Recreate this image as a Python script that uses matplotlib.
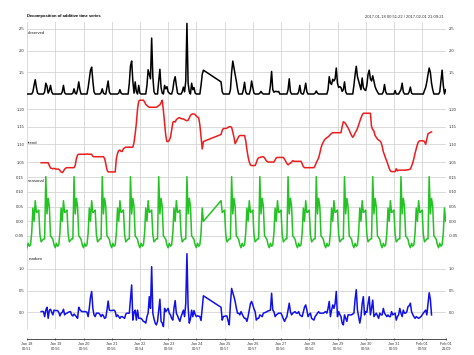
import numpy as np
import pandas as pd
import matplotlib
matplotlib.use("Agg")
import matplotlib.pyplot as plt
import matplotlib.dates as mdates
from matplotlib.ticker import FormatStrFormatter

plt.rcParams['font.family'] = ['Liberation Sans', 'DejaVu Sans']

# hourly series, a hole on Jan 24 (no observations)
start, end = "2017-01-18 00:51", "2017-02-01 20:51"
gap_start, gap_end = "2017-01-24 07:51", "2017-01-24 20:51"

title = "Decomposition of additive time series"
range_text = "2017-01-18 00:51:22 / 2017-02-01 21:09:21"

observed = [
    1.0, 1.0, 1.0, 1.0, 1.0, 1.05, 1.2, 1.33, 1.15, 1.02, 1.0, 1.0, 1.0, 1.0, 1.0, 1.05, 1.25, 1.18, 1.02, 1.08, 1.2, 1.05, 1.0, 1.0,
    1.0, 1.0, 1.0, 1.0, 1.0, 1.0, 1.05, 1.2, 1.03, 1.0, 1.0, 1.0, 1.0, 1.0, 1.0, 1.02, 1.12, 1.02, 1.0, 1.1, 1.28, 1.1, 1.0, 1.0,
    1.0, 1.0, 1.0, 1.0, 1.15, 1.35, 1.55, 1.62, 1.3, 1.05, 1.0, 1.0, 1.0, 1.0, 1.0, 1.03, 1.12, 1.02, 1.0, 1.0, 1.15, 1.3, 1.05, 1.0,
    1.0, 1.0, 1.0, 1.0, 1.0, 1.0, 1.02, 1.1, 1.02, 1.0, 1.0, 1.0, 1.0, 1.0, 1.0, 1.25, 1.65, 1.76, 1.3, 1.02, 1.28, 1.05, 1.0, 1.2,
    1.02, 1.0, 1.0, 1.0, 1.0, 1.0, 1.2, 1.56, 1.45, 1.35, 2.29, 1.4, 1.05, 1.0, 1.0, 1.0, 1.3, 1.57, 1.15, 1.02, 1.0, 1.2, 1.12, 1.17,
    1.05, 1.02, 1.0, 1.0, 1.1, 1.3, 1.4, 1.2, 1.02, 1.0, 1.0, 1.0, 1.05, 1.16, 1.05, 1.3, 2.63, 1.25, 1.05, 1.0, 1.25, 1.1, 1.15, 1.02,
    1.0, 1.0, 1.0, 1.0, 1.2, 1.45, 1.55,
    1.28, 1.05, 1.0,
    1.0, 1.0, 1.0, 1.0, 1.0, 1.1, 1.5, 1.76, 1.6, 1.45, 1.3, 1.12, 1.0, 1.0, 1.0, 1.0, 1.1, 1.27, 1.05, 1.0, 1.0, 1.0, 1.1, 1.3,
    1.15, 1.02, 1.0, 1.0, 1.0, 1.0, 1.02, 1.06, 1.02, 1.0, 1.0, 1.0, 1.0, 1.0, 1.0, 1.2, 1.52, 1.1, 1.04, 1.06, 1.06, 1.05, 1.06, 1.0,
    1.0, 1.0, 1.0, 1.0, 1.0, 1.0, 1.1, 1.35, 1.05, 1.0, 1.0, 1.0, 1.0, 1.0, 1.0, 1.05, 1.2, 1.02, 1.0, 1.0, 1.1, 1.25, 1.05, 1.0,
    1.0, 1.0, 1.0, 1.0, 1.0, 1.02, 1.07, 1.02, 1.0, 1.0, 1.0, 1.0, 1.0, 1.0, 1.0, 1.0, 1.1, 1.4, 1.25, 1.22, 1.34, 1.3, 1.35, 1.6,
    1.25, 1.15, 1.17, 1.15, 1.06, 1.1, 1.28, 1.05, 1.0, 1.0, 1.0, 1.0, 1.0, 1.0, 1.2, 1.45, 1.64, 1.4, 1.3, 1.2, 1.1, 1.37, 1.15, 1.1,
    1.08, 1.2, 1.45, 1.55, 1.35, 1.3, 1.42, 1.3, 1.17, 1.1, 1.05, 1.0, 1.0, 1.0, 1.0, 1.05, 1.22, 1.05, 1.0, 1.0, 1.0, 1.0, 1.0, 1.0,
    1.0, 1.08, 1.0, 1.0, 1.0, 1.05, 1.1, 1.25, 1.05, 1.0, 1.0, 1.0, 1.0, 1.05, 1.16, 1.02, 1.0, 1.0, 1.0, 1.0, 1.0, 1.0, 1.0, 1.0,
    1.0, 1.0, 1.08, 1.15, 1.28, 1.45, 1.6, 1.5, 1.25, 1.1, 1.0, 1.0, 1.0, 1.0, 1.0, 1.05, 1.3, 1.55, 1.2, 1.0, 1.1,
]

# moving average: first and last 12 observations have no trend
trend = [
    1.048, 1.048, 1.048, 1.048, 1.048, 1.048, 1.048, 1.04, 1.033, 1.032, 1.031, 1.032,
    1.031, 1.03, 1.03, 1.03, 1.026, 1.022, 1.02, 1.024, 1.03, 1.033, 1.034, 1.034,
    1.034, 1.034, 1.034, 1.034, 1.034, 1.04, 1.06, 1.07, 1.072, 1.072, 1.072, 1.072,
    1.072, 1.072, 1.072, 1.073, 1.072, 1.072, 1.072, 1.072, 1.066, 1.065, 1.065, 1.065,
    1.065, 1.065, 1.065, 1.065, 1.065, 1.065, 1.06, 1.045, 1.028, 1.022, 1.022, 1.022,
    1.022, 1.022, 1.022, 1.022, 1.06, 1.075, 1.082, 1.084, 1.08, 1.08, 1.088, 1.09,
    1.092, 1.092, 1.092, 1.092, 1.092, 1.092, 1.092, 1.105, 1.13, 1.16, 1.2, 1.222,
    1.225, 1.225, 1.225, 1.225, 1.22, 1.213, 1.21, 1.207, 1.205, 1.205, 1.205, 1.205,
    1.205, 1.205, 1.205, 1.207, 1.21, 1.212, 1.218, 1.225, 1.195, 1.16, 1.125, 1.108,
    1.108, 1.112, 1.12, 1.14, 1.162, 1.165, 1.163, 1.17, 1.173, 1.175, 1.175, 1.173,
    1.172, 1.172, 1.17, 1.168, 1.167, 1.168, 1.175, 1.182, 1.185, 1.186, 1.186, 1.184,
    1.18, 1.177, 1.175, 1.155, 1.12, 1.087, 1.108,
    1.128, 1.14, 1.145, 1.145, 1.145, 1.146, 1.148, 1.15, 1.15, 1.148, 1.135, 1.12,
    1.102, 1.108, 1.115, 1.122, 1.125, 1.125, 1.125, 1.125, 1.125, 1.11, 1.085, 1.065,
    1.05, 1.042, 1.04, 1.04, 1.04, 1.04, 1.048, 1.058, 1.062, 1.063, 1.064, 1.065,
    1.065, 1.062, 1.056, 1.052, 1.05, 1.05, 1.05, 1.05, 1.05, 1.05, 1.056, 1.062,
    1.063, 1.063, 1.063, 1.063, 1.063, 1.063, 1.058, 1.052, 1.046, 1.042, 1.045, 1.047,
    1.05, 1.054, 1.052, 1.052, 1.052, 1.052, 1.052, 1.052, 1.052, 1.045, 1.037, 1.034,
    1.034, 1.034, 1.034, 1.034, 1.034, 1.034, 1.034, 1.034, 1.04, 1.048, 1.055, 1.062,
    1.075, 1.09, 1.1, 1.107, 1.113, 1.116, 1.119, 1.121, 1.124, 1.128, 1.131, 1.133,
    1.133, 1.133, 1.133, 1.133, 1.133, 1.133, 1.133, 1.15, 1.164, 1.162, 1.158, 1.152,
    1.147, 1.14, 1.132, 1.125, 1.12, 1.125, 1.132, 1.138, 1.145, 1.155, 1.165, 1.175,
    1.183, 1.188, 1.188, 1.188, 1.188, 1.188, 1.188, 1.188, 1.15, 1.142, 1.138, 1.125,
    1.12, 1.115, 1.112, 1.11, 1.106, 1.095, 1.079, 1.07, 1.06, 1.052, 1.042, 1.032,
    1.025, 1.023, 1.023, 1.023, 1.023, 1.031, 1.025, 1.027, 1.027, 1.027, 1.027, 1.027,
    1.027, 1.027, 1.028, 1.028, 1.029, 1.03, 1.038, 1.048, 1.06, 1.075, 1.088, 1.1,
    1.108, 1.11, 1.11, 1.11, 1.11, 1.108, 1.1, 1.115, 1.13, 1.132, 1.134, 1.135,
]

# one daily cycle of the seasonal component (24 observations)
seasonal_profile = [
    -0.09, -0.075, -0.085, -0.08, -0.04, 0.045, 0.0, 0.07, 0.03, 0.033, 0.038, -0.045,
    -0.07, -0.065, -0.06, -0.06, 0.152, 0.025, 0.078, 0.05, -0.05, -0.055, -0.062, -0.08,
]

random_part = [
    0.015, 0.02, 0.015, -0.1, 0.05, 0.115, -0.14, 0.05, 0.07, 0.0, -0.06, 0.05,
    0.04, 0.04, 0.04, 0.0, -0.085, -0.02, 0.0, 0.07, -0.06, -0.03, -0.02, 0.0,
    0.01, 0.015, -0.06, -0.085, -0.04, -0.07, -0.1, -0.14, 0.115, 0.06, 0.03, 0.015,
    0.015, 0.015, 0.015, 0.0, -0.1, 0.1, 0.35, 0.48, 0.09, -0.06, -0.1, -0.02,
    -0.02, -0.02, -0.05, -0.1, -0.05, -0.08, -0.14, -0.12, 0.05, 0.26, 0.05, 0.04,
    0.04, 0.045, 0.05, 0.02, -0.1, -0.06, -0.1, -0.14, -0.1, -0.1, -0.12, -0.14,
    -0.04, -0.02, -0.02, -0.02, 0.3, 0.63, -0.18, 0.0, 0.05, -0.18, 0.05, -0.14,
    -0.14, -0.14, -0.17, -0.21, -0.22, -0.25, -0.1, -0.02, 0.36, 0.09, 1.05, -0.02,
    -0.15, -0.25, -0.29, -0.21, 0.05, 0.3, -0.21, -0.25, -0.33, 0.09, 0.015, 0.05,
    0.09, -0.02, -0.06, -0.14, -0.18, 0.1, 0.27, -0.02, -0.08, -0.15, -0.21, -0.1,
    -0.03, 0.05, -0.1, 0.2, 1.35, 0.13, -0.25, -0.15, 0.05, -0.1, 0.04, -0.05,
    -0.1, -0.08, -0.09, -0.1, -0.19, 0.1, 0.38,
    0.115, -0.18, -0.1, -0.09, -0.085, -0.085, -0.2, -0.29, 0.2, 0.55, 0.45, 0.36,
    0.25, 0.1, -0.02, -0.02, -0.06, 0.015, -0.04, -0.1, -0.14, -0.14, -0.21, -0.1,
    0.05, 0.2, 0.25, 0.17, 0.08, 0.015, -0.18, -0.14, -0.14, -0.06, -0.08, -0.1,
    -0.02, -0.01, 0.0, 0.015, 0.03, 0.04, 0.05, 0.44, 0.05, 0.015, -0.1, -0.06,
    -0.04, -0.02, -0.02, -0.02, -0.08, -0.15, -0.21, -0.15, -0.1, 0.05, 0.21, 0.015,
    -0.06, -0.02, 0.0, 0.015, -0.02, -0.02, 0.015, -0.06, -0.08, -0.1, 0.015, 0.12,
    0.17, 0.05, -0.1, -0.05, -0.02, -0.14, -0.16, -0.18, -0.1, -0.06, -0.02, 0.015,
    -0.02, -0.02, -0.02, -0.02, 0.0, 0.015, -0.02, 0.09, 0.25, -0.1, 0.05, 0.17,
    0.09, 0.2, 0.48, -0.1, 0.015, -0.05, -0.1, -0.25, -0.29, -0.06, -0.14, -0.21,
    -0.06, -0.06, -0.06, -0.06, -0.04, -0.02, 0.3, 0.52, 0.05, -0.1, -0.25, -0.1,
    0.2, 0.36, -0.06, 0.015, 0.0, 0.2, 0.36, -0.06, 0.1, 0.28, -0.1, -0.06,
    -0.02, -0.08, -0.14, -0.02, -0.06, -0.06, 0.09, -0.02, -0.06, -0.1, -0.06, -0.1,
    -0.1, 0.015, -0.06, -0.04, -0.02, -0.18, -0.1, -0.06, 0.09, -0.02, -0.1, 0.05,
    -0.02, -0.02, 0.015, 0.13, 0.15, 0.21, 0.015, -0.05, -0.1, -0.14, -0.1, -0.12,
    -0.14, -0.12, -0.1, -0.06, -0.02, 0.015, 0.05, -0.06, 0.2, 0.45, 0.3, -0.06,
]

tick_times = [
    "2017-01-18 00:51", "2017-01-19 00:56", "2017-01-20 00:56", "2017-01-21 00:56",
    "2017-01-22 00:54", "2017-01-23 00:58", "2017-01-24 00:57", "2017-01-25 00:57",
    "2017-01-26 00:57", "2017-01-27 00:56", "2017-01-28 00:56", "2017-01-29 00:56",
    "2017-01-30 00:58", "2017-01-31 00:59", "2017-02-01 00:58", "2017-02-01 21:09",
]

times = pd.date_range(start, end, freq="h")
times = times[(times < pd.Timestamp(gap_start)) | (times > pd.Timestamp(gap_end))]
x = mdates.date2num(times.to_pydatetime())
x_mid = x[12:-12]
seasonal = np.resize(seasonal_profile, len(x))

ticks = pd.to_datetime(tick_times)
tick_x = mdates.date2num(ticks.to_pydatetime())
tick_labels = [t.strftime("%b %d\n%H:%M") for t in ticks]

W, H = 474, 355
left, right = 27, 446
fig = plt.figure(figsize=(W / 100, H / 100), dpi=100)

# (x, y, name, colour, ylim, yticks, format, top px, bottom px, label height)
panels = [
    (x, observed, "observed", "black", (0.931, 2.661), [1.5, 2.0, 2.5], "%.1f", 22, 97, 0.857),
    (x_mid, trend, "trend", "#ee1c1c", (1.0105, 1.234), [1.05, 1.10, 1.15, 1.20], "%.2f", 97, 176, 0.42),
    (x, seasonal, "seasonal", "#22c322", (-0.108, 0.154), [-0.05, 0.0, 0.05, 0.10, 0.15], "%.2f", 176, 253, 0.94),
    (x_mid, random_part, "random", "#1010e8", (-0.385, 1.366), [0.0, 0.5, 1.0], "%.1f", 253, 329, 0.917),
]

for i, (xs, ys, name, col, ylim, yt, fmt, top, bot, ly) in enumerate(panels):
    ax = fig.add_axes([left / W, 1 - bot / H, (right - left) / W, (bot - top) / H])
    ax.plot(xs, ys, color=col, lw=1.1, solid_joinstyle='round')
    ax.set_xlim(tick_x[0], tick_x[-1])
    ax.set_ylim(*ylim)
    ax.set_yticks(yt)
    ax.yaxis.set_major_formatter(FormatStrFormatter(fmt))
    ax.set_xticks(tick_x)
    ax.grid(True, color='#d4d4d4', lw=0.6)
    ax.set_axisbelow(True)
    for s in ax.spines.values():
        s.set_visible(False)
    ax.tick_params(axis='y', length=0, labelleft=True, labelright=True,
                   labelsize=3.0, labelcolor='#333333', pad=2)
    ax.text(0.003, ly, name, transform=ax.transAxes, fontsize=3.1,
            color='#222222', ha='left', va='center')
    if i < len(panels) - 1:
        ax.tick_params(axis='x', length=0, labelbottom=False)
    else:
        ax.spines['bottom'].set_visible(True)
        ax.spines['bottom'].set_position(('outward', 7.2))
        ax.spines['bottom'].set_color('#333333')
        ax.spines['bottom'].set_linewidth(0.6)
        ax.set_xticklabels(tick_labels)
        ax.tick_params(axis='x', length=2, width=0.5, direction='inout',
                       color='#333333', labelsize=2.7, labelcolor='#333333', pad=1.5)

fig.text(left / W, 1 - 16.5 / H, title, fontsize=3.0, fontweight='bold',
         ha='left', va='center')
fig.text(444 / W, 1 - 16.5 / H, range_text, fontsize=3.0, color='#333333',
         ha='right', va='center')

fig.savefig("out.png", dpi=100)
